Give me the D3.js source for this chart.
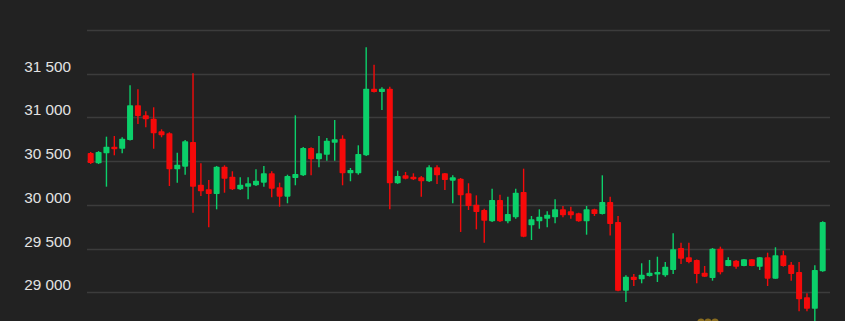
<!DOCTYPE html>
<html>
<head>
<meta charset="utf-8">
<script src="https://cdn.jsdelivr.net/npm/d3@7"></script>
<style>
  html, body { margin: 0; padding: 0; background: #222222; }
  svg { display: block; }
</style>
</head>
<body>
<svg id="chart" width="845" height="321"></svg>
<script>
// ---- data ----
const opens = [30593,30476,30590,30665,30642,30742,31139,31024,30986,30841,30819,30407,30437,30719,30231,30178,30124,30437,30322,30178,
  30208,30224,30254,30361,30201,30094,30307,30338,30650,30521,30574,30711,30757,30361,30361,30567,31329,31291,31329,30247,
  30338,30322,30315,30270,30430,30361,30277,30299,30132,30002,29941,29812,30056,29812,29858,30147,29766,29812,29842,29858,
  29949,29926,29904,29812,29949,29896,30033,29804,29018,29179,29149,29187,29209,29194,29255,29507,29400,29370,29224,29164,
  29499,29301,29362,29301,29377,29293,29400,29156,29423,29316,29232,28943,28812,29240];
const highs = [30605,30615,30780,30788,30773,31368,31322,31070,31116,30864,30830,30597,30742,31505,30476,30284,30445,30453,30384,30315,
  30315,30407,30445,30384,30254,30345,31024,30661,30660,30788,30765,30971,30796,30422,30681,31802,31603,31345,31352,30391,
  30376,30361,30330,30453,30453,30365,30338,30307,30247,30109,29956,30185,30116,30094,30185,30414,29873,29949,29926,30064,
  29987,29979,29910,29987,29956,30338,30094,29873,29194,29209,29332,29370,29407,29347,29675,29567,29567,29375,29301,29507,
  29522,29400,29370,29380,29380,29404,29453,29515,29476,29347,29347,28989,29309,29812];
const lows = [30467,30467,30208,30567,30590,30735,30925,30887,30642,30773,30216,30254,30345,29910,30101,29743,29949,30139,30170,30170,
  30064,30215,30208,30087,29979,30018,30224,30330,30338,30430,30505,30505,30224,30270,30345,30560,31285,31085,29949,30240,
  30292,30284,30094,30262,30239,30170,30018,29690,29941,29720,29567,29805,29805,29789,29842,29630,29598,29727,29743,29789,
  29858,29842,29808,29659,29873,29890,29650,29012,28889,29072,29103,29180,29118,29179,29209,29324,29332,29103,29175,29133,
  29205,29298,29270,29298,29298,29255,29072,29156,29293,29133,28783,28783,28550,29235];
const closes = [30479,30605,30665,30642,30757,31139,31016,30979,30819,30796,30407,30460,30727,30208,30155,30124,30437,30299,30178,30231,
  30247,30277,30361,30185,30094,30330,30353,30650,30521,30590,30734,30750,30361,30399,30582,31329,31291,31329,30247,30330,
  30299,30292,30270,30430,30338,30284,30315,30109,29987,29918,29819,30056,29812,29896,30139,29636,29835,29865,29888,29949,
  29881,29881,29812,29949,29896,30033,29781,29018,29179,29141,29201,29224,29232,29293,29492,29384,29347,29209,29179,29499,
  29230,29370,29293,29377,29301,29400,29156,29423,29301,29209,28920,28812,29255,29804];
const tickValues = [29000, 29500, 30000, 30500, 31000, 31500, 32000];
const tickLabels = ["29 000", "29 500", "30 000", "30 500", "31 000", "31 500", ""];

const candles = opens.map((o, i) => ({ i, o, h: highs[i], l: lows[i], c: closes[i] }));

// ---- layout ----
const svg = d3.select("#chart");
const W = 845, H = 321;
svg.append("rect").attr("width", W).attr("height", H).attr("fill", "#222222");

const y = d3.scaleLinear().domain([29000, 32000]).range([292.3, 30]);
const x = d3.scalePoint().domain(candles.map(d => d.i)).range([90.7, 822.7]);

const gridLeft = 87, gridRight = 830;

// gridlines
svg.append("g").selectAll("line").data(tickValues).join("line")
  .attr("x1", gridLeft).attr("x2", gridRight)
  .attr("y1", d => Math.round(y(d)) + 0.5).attr("y2", d => Math.round(y(d)) + 0.5)
  .attr("stroke", "#3c3c3c").attr("stroke-width", 1.5);

// labels
svg.append("g").selectAll("text").data(tickValues).join("text")
  .attr("x", 71).attr("y", d => y(d) - 2)
  .attr("text-anchor", "end")
  .attr("font-family", "'Liberation Sans', Arial, Helvetica, sans-serif")
  .attr("font-size", 15.3)
  .attr("fill", "#e2e2e2")
  .text((d, i) => tickLabels[i]);

// watermark (cut-off logo at bottom)
svg.append("g").selectAll("circle").data([0, 1, 2]).join("circle")
  .attr("cx", d => 701 + d * 7).attr("cy", 322).attr("r", 3.6)
  .attr("fill", "#9c7a1f").attr("opacity", 0.85);

const up = "#0bd06a", down = "#f50a0a";
const bodyW = 6;

const g = svg.append("g");
// wicks
g.selectAll("line.wick").data(candles).join("line")
  .attr("class", "wick")
  .attr("x1", d => x(d.i)).attr("x2", d => x(d.i))
  .attr("y1", d => y(d.h)).attr("y2", d => y(d.l))
  .attr("stroke", d => d.c >= d.o ? up : down)
  .attr("stroke-width", 1.4);
// bodies
g.selectAll("rect.body").data(candles).join("rect")
  .attr("class", "body")
  .attr("x", d => x(d.i) - bodyW / 2)
  .attr("width", bodyW)
  .attr("y", d => Math.min(y(d.o), y(d.c)))
  .attr("height", d => Math.max(2.5, Math.abs(y(d.o) - y(d.c))))
  .attr("rx", 0.8)
  .attr("fill", d => d.c >= d.o ? up : down);
</script>
</body>
</html>
